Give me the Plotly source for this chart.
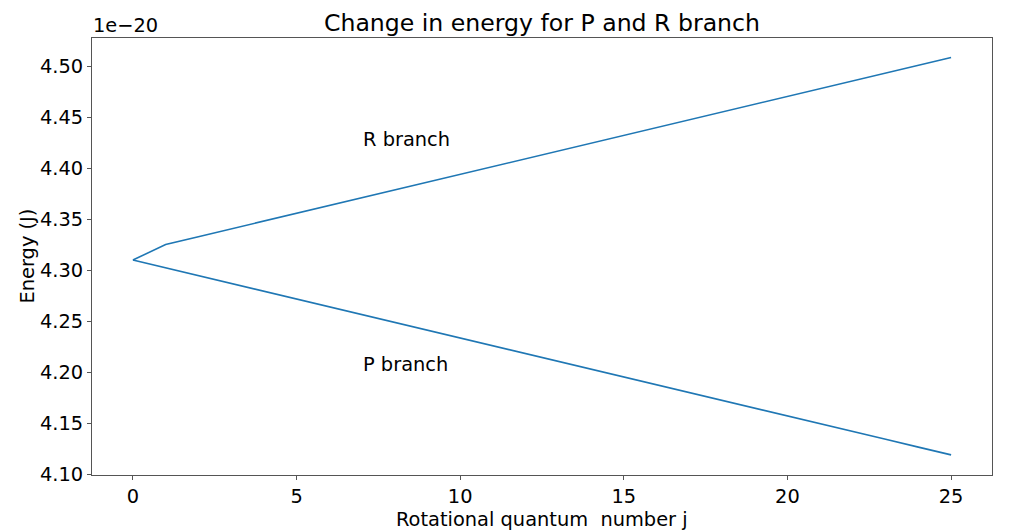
import plotly.graph_objects as go

SCALE_LABEL = "1e\u221220"
X_TITLE = "Rotational quantum  number j"
Y_TITLE = "Energy (J)"
j = list(range(26))
# energies in units of 1e-20 J
r_branch = [4.3100, 4.3253, 4.3329, 4.3405, 4.3482, 4.3558, 4.3634, 4.3711, 4.3787,
            4.3863, 4.3940, 4.4016, 4.4092, 4.4169, 4.4245, 4.4321, 4.4397, 4.4474,
            4.4550, 4.4626, 4.4703, 4.4779, 4.4855, 4.4932, 4.5008, 4.5084]
p_branch = [4.3100, 4.3024, 4.2947, 4.2871, 4.2795, 4.2718, 4.2642, 4.2566, 4.2489,
            4.2413, 4.2337, 4.2260, 4.2184, 4.2108, 4.2032, 4.1955, 4.1879, 4.1803,
            4.1726, 4.1650, 4.1574, 4.1497, 4.1421, 4.1345, 4.1268, 4.1192]
x_ticks = [0, 5, 10, 15, 20, 25]
y_ticks = [4.10, 4.15, 4.20, 4.25, 4.30, 4.35, 4.40, 4.45, 4.50]
labels = [("R branch", 7, 4.42), ("P branch", 7, 4.20)]

color = "#1f77b4"
font = "DejaVu Sans"
FS = 19.4

fig = go.Figure()
fig.add_trace(go.Scatter(x=j, y=r_branch, mode="lines", line=dict(color=color, width=1.6),
                         name="R branch", showlegend=False))
fig.add_trace(go.Scatter(x=j, y=p_branch, mode="lines", line=dict(color=color, width=1.6),
                         name="P branch", showlegend=False))

for txt, xx, yy in labels:
    fig.add_annotation(x=xx, y=yy, text=txt, showarrow=False, xanchor="left", yanchor="bottom",
                       xref="x", yref="y", font=dict(family=font, size=FS, color="black"),
                       borderpad=0, yshift=-4.5)

fig.add_annotation(x=0, y=1, xref="paper", yref="paper", text=SCALE_LABEL, showarrow=False,
                   xanchor="left", yanchor="bottom", font=dict(family=font, size=FS, color="black"),
                   borderpad=0, yshift=0)

# axis titles
fig.add_annotation(x=0.5, y=0, xref="paper", yref="paper", text=X_TITLE, showarrow=False,
                   xanchor="center", yanchor="middle", yshift=-44, borderpad=0,
                   font=dict(family=font, size=FS, color="black"))
fig.add_annotation(x=0, y=0.5, xref="paper", yref="paper", text=Y_TITLE, showarrow=False,
                   xanchor="center", yanchor="middle", xshift=-65, textangle=-90, borderpad=0,
                   font=dict(family=font, size=FS, color="black"))

axis_common = dict(showline=True, linecolor="#555555", linewidth=1, mirror=True,
                   ticks="outside", ticklen=4, tickcolor="#555555", showgrid=False,
                   zeroline=False, automargin=False,
                   tickfont=dict(family=font, size=FS, color="black"))

fig.update_layout(
    width=1024, height=531,
    margin=dict(l=92, r=32, t=38, b=56),
    paper_bgcolor="white", plot_bgcolor="white",
    title=dict(text="Change in energy for P and R branch", x=0.5293, xanchor="center",
               y=0.957, yanchor="middle", font=dict(family=font, size=23.6, color="black")),
    xaxis=dict(range=[-1.25, 26.25], tickvals=x_ticks, ticktext=[str(v) for v in x_ticks],
               **axis_common),
    yaxis=dict(range=[4.0995, 4.5275], tickvals=y_ticks, ticktext=[f"{v:.2f}" for v in y_ticks],
               **axis_common),
)

fig.write_html("out.html")
